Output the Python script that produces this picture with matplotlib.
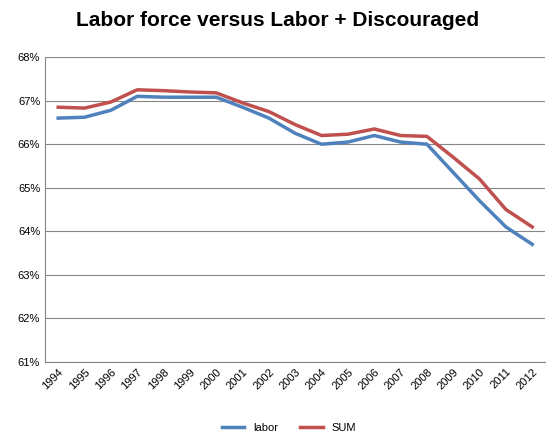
import matplotlib
matplotlib.use("Agg")
import matplotlib.pyplot as plt
import numpy as np
from matplotlib.ticker import FuncFormatter

years = [str(y) for y in range(1994, 2013)]
labor = [66.6, 66.62, 66.78, 67.1, 67.08, 67.08, 67.08, 66.85, 66.6, 66.25, 66.0,
         66.05, 66.2, 66.05, 66.0, 65.35, 64.7, 64.1, 63.7]
sum_vals = [66.85, 66.83, 66.97, 67.25, 67.23, 67.2, 67.18, 66.95, 66.75, 66.45, 66.2,
            66.23, 66.35, 66.2, 66.18, 65.7, 65.2, 64.5, 64.1]

plt.rcParams["font.family"] = ["Liberation Sans", "DejaVu Sans"]

fig = plt.figure(figsize=(5.56, 4.43), dpi=100)
ax = fig.add_axes([0.081, 0.183, 0.9, 0.688])
x = np.arange(len(years))
ax.plot(x, labor, color="#4F81BD", lw=2.5, label="labor")
ax.plot(x, sum_vals, color="#C0504D", lw=2.5, label="SUM")

ax.set_xlim(-0.5, len(years) - 0.5)
ax.set_ylim(61, 68)
ax.set_yticks(range(61, 69))
ax.yaxis.set_major_formatter(FuncFormatter(lambda v, p: f"{v:.0f}%"))
ax.set_xticks(x)
ax.set_xticklabels(years, rotation=45, ha="right", rotation_mode="anchor")
ax.tick_params(labelsize=8, length=0)
ax.grid(axis="y", color="#868686", lw=0.8)
ax.set_axisbelow(True)
for s in ["top", "right"]:
    ax.spines[s].set_visible(False)
for s in ["left", "bottom"]:
    ax.spines[s].set_color("#868686")

fig.suptitle("Labor force versus Labor + Discouraged", fontsize=15, fontweight="bold", y=0.975)
fig.legend(loc="lower center", bbox_to_anchor=(0.52, 0.0), ncol=2, frameon=False, fontsize=8)

fig.savefig("out.png", dpi=100)
